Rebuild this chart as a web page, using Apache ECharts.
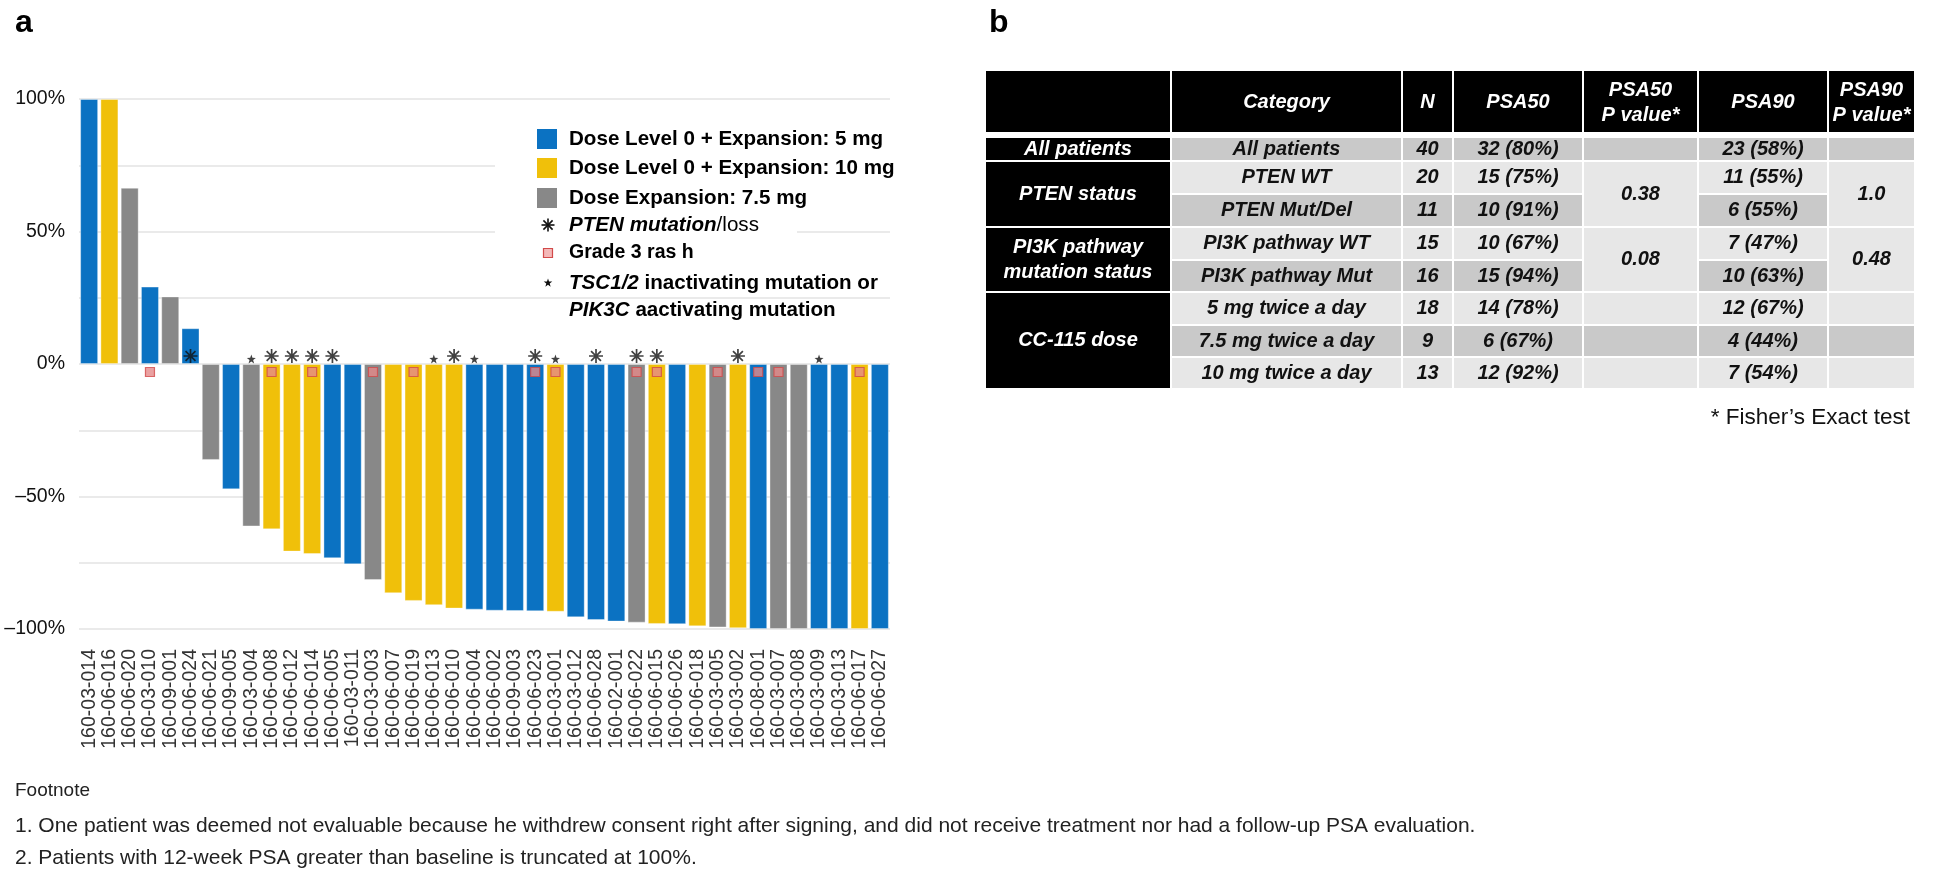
<!DOCTYPE html>
<html><head><meta charset="utf-8">
<script src="https://cdn.jsdelivr.net/npm/echarts@6/dist/echarts.min.js"></script>
<style>html,body{margin:0;padding:0;background:#fff}#c{width:1945px;height:874px}</style>
</head><body><div id="c"></div>
<script>
// ---------- Panel a data ----------
const patients = ['160-03-014','160-06-016','160-06-020','160-03-010','160-09-001','160-06-024','160-06-021','160-09-005','160-03-004','160-06-008',
  '160-06-012','160-06-014','160-06-005','160-03-011','160-03-003','160-06-007','160-06-019','160-06-013','160-06-010','160-06-004',
  '160-06-002','160-09-003','160-06-023','160-03-001','160-03-012','160-06-028','160-02-001','160-06-022','160-06-015','160-06-026',
  '160-06-018','160-03-005','160-03-002','160-08-001','160-03-007','160-03-008','160-03-009','160-03-013','160-06-017','160-06-027'];
const psaChange = [100,100,66.5,29.2,25.5,13.5,-36.2,-47.3,-61.3,-62.4,
  -70.8,-71.7,-73.3,-75.6,-81.5,-86.5,-89.4,-91.0,-92.3,-92.7,
  -93.1,-93.2,-93.3,-93.5,-95.6,-96.6,-97.2,-97.6,-98.1,-98.2,
  -99.0,-99.4,-99.7,-100,-100,-100,-100,-100,-100,-100];
// 0 = 5 mg, 1 = 10 mg, 2 = 7.5 mg
const doseGroup = [0,1,2,0,2,0,2,0,2,1, 1,1,0,0,2,1,1,1,1,0, 0,0,0,1,0,0,0,2,1,0, 1,2,1,0,2,2,0,0,1,0];
const groupNames = ['Dose Level 0 + Expansion: 5 mg','Dose Level 0 + Expansion: 10 mg','Dose Expansion: 7.5 mg'];
const ptenLoss = ['160-06-024','160-06-008','160-06-012','160-06-014','160-06-005','160-06-010','160-06-023','160-06-028','160-06-022','160-06-015','160-03-002'];
const tscPik3c = ['160-03-004','160-06-013','160-06-004','160-03-001','160-03-009'];
const grade3Rash = ['160-03-010','160-06-008','160-06-014','160-03-003','160-06-019','160-06-023','160-03-001','160-06-022','160-06-015','160-03-005','160-08-001','160-03-007','160-06-017'];
const yTicks = [-100,-75,-50,-25,0,25,50,75,100];

// ---------- Panel b data ----------
const tableHeader = ['', 'Category', 'N', 'PSA50', 'PSA50\nP value*', 'PSA90', 'PSA90\nP value*'];
const tableCategory = ['All patients','PTEN WT','PTEN Mut/Del','PI3K pathway WT','PI3K pathway Mut','5 mg twice a day','7.5 mg twice a day','10 mg twice a day'];
const tableN = [40,20,11,15,16,18,9,13];
const tablePSA50 = ['32 (80%)','15 (75%)','10 (91%)','10 (67%)','15 (94%)','14 (78%)','6 (67%)','12 (92%)'];
const tablePSA90 = ['23 (58%)','11 (55%)','6 (55%)','7 (47%)','10 (63%)','12 (67%)','4 (44%)','7 (54%)'];
const tableGroups = ['All patients','PTEN status','PI3K pathway\nmutation status','CC-115 dose'];
const tableGroupRows = [[0],[1,2],[3,4],[5,6,7]];
const tablePValue50 = ['', '0.38', '0.08', ''];
const tablePValue90 = ['', '1.0', '0.48', ''];
const footnotes = ['Footnote',
  '1. One patient was deemed not evaluable because he withdrew consent right after signing, and did not receive treatment nor had a follow-up PSA evaluation.',
  '2. Patients with 12-week PSA greater than baseline is truncated at 100%.'];

// ---------- styles ----------
const FF = "'Liberation Sans', Arial, Helvetica, sans-serif";
const colors = ['#0B72C2', '#F0C00A', '#888888'];
const ASTERISK = 'M0,-10L0,10M-10,0L10,0M-7.07,-7.07L7.07,7.07M-7.07,7.07L7.07,-7.07';
const STAR_PTS = [[0,-10],[2.35,-3.24],[9.51,-3.09],[3.8,1.24],[5.88,8.09],[0,4],[-5.88,8.09],[-3.8,1.24],[-9.51,-3.09],[-2.35,-3.24]];
const STAR = 'M' + STAR_PTS.map(p => p.join(',')).join('L') + 'Z';
const SQUARE = 'M0,0H10V10H0Z';
const rashStyle = {color:'#e58a8a', borderColor:'#d24a4a', borderWidth:1.2};

const G = [];
function txt(x, y, text, opt) {
  G.push({type:'text', x, y, z:10, style:Object.assign({text, fill:'#111', fontFamily:FF, fontSize:20,
    fontWeight:'bold', fontStyle:'italic', align:'center', verticalAlign:'middle', lineHeight:25}, opt || {})});
}
function rect(x, y, w, h, fill, z, extra) {
  G.push({type:'rect', z:z || 8, shape:{x, y, width:w, height:h}, style:Object.assign({fill}, extra || {})});
}
function asteriskIcon(cx, cy, r) {
  const d = r * 0.707;
  [[0,-r,0,r],[-r,0,r,0],[-d,-d,d,d],[-d,d,d,-d]].forEach(s =>
    G.push({type:'line', z:10, shape:{x1:cx+s[0], y1:cy+s[1], x2:cx+s[2], y2:cy+s[3]}, style:{stroke:'#111', lineWidth:1.6}}));
}
function starIcon(cx, cy, r) {
  G.push({type:'polygon', z:10, shape:{points:STAR_PTS.map(p => [cx + p[0]*r/10, cy + p[1]*r/10])}, style:{fill:'#111'}});
}

// panel letters
txt(15, 11, 'a', {fontSize:32, fontStyle:'normal', align:'left', verticalAlign:'top', fill:'#000'});
txt(989, 11, 'b', {fontSize:32, fontStyle:'normal', align:'left', verticalAlign:'top', fill:'#000'});

// legend background
rect(495, 112, 405, 100, '#fff', 4);
rect(495, 112, 302, 176, '#fff', 4);
// legend entries
const legY = [139, 168, 198, 225, 253, 283];
const LFS = 20.6;
groupNames.forEach((n, i) => {
  rect(537, legY[i] - 10, 20, 20, colors[i], 10);
  txt(569, legY[i], n, {align:'left', fontStyle:'normal', fontSize:LFS, fill:'#000'});
});
asteriskIcon(548, legY[3], 6.5);
txt(569, legY[3], '{bi|PTEN mutation}{r|/loss}', {align:'left', rich:{
  bi:{fontFamily:FF, fontSize:LFS, fontWeight:'bold', fontStyle:'italic', fill:'#000'},
  r:{fontFamily:FF, fontSize:LFS, fontWeight:'normal', fontStyle:'normal', fill:'#000'}}});
rect(543.5, legY[4] - 4.5, 9, 9, '#f3b8b8', 10, {stroke:'#d24a4a', lineWidth:1.2});
txt(569, legY[4], 'Grade 3 ras h', {align:'left', fontStyle:'normal', fontSize:19.5, fill:'#000'});
starIcon(548, legY[5], 4.5);
const legRich = {
  bi:{fontFamily:FF, fontSize:LFS, fontWeight:'bold', fontStyle:'italic', fill:'#000'},
  b:{fontFamily:FF, fontSize:LFS, fontWeight:'bold', fontStyle:'normal', fill:'#000'}};
txt(569, legY[5], '{bi|TSC1/2}{b| inactivating mutation or}', {align:'left', rich:legRich});
txt(569, legY[5] + 27, '{bi|PIK3C}{b| aactivating mutation}', {align:'left', rich:legRich});

// ---------- table ----------
const tx = [986, 1172, 1403, 1454, 1584, 1699, 1829, 1914];
const hy = [71, 132];
const ry = [138, 162, 195, 228, 261, 293, 326, 358, 390];
const DARK = '#c9c9c9', LIGHT = '#e7e7e7';
function cw(c) { return tx[c+1] - tx[c] - (c < 6 ? 2 : 0); }
function cx(c) { return tx[c] + cw(c) / 2; }
function rh(a, b) { return ry[b+1] - ry[a] - 2; }
function rc(a, b) { return ry[a] + rh(a, b) / 2; }
for (let c = 0; c < 7; c++) {
  rect(tx[c], hy[0], cw(c), hy[1] - hy[0], '#000');
  if (tableHeader[c]) txt(cx(c), (hy[0] + hy[1]) / 2 + 1, tableHeader[c], {fill:'#fff'});
}
for (let r = 0; r < tableCategory.length; r++) {
  const shade = r % 2 === 0 ? DARK : LIGHT;
  [[1, tableCategory], [2, tableN], [3, tablePSA50], [5, tablePSA90]].forEach(([c, arr]) => {
    rect(tx[c], ry[r], cw(c), rh(r, r), shade);
    txt(cx(c), rc(r, r), String(arr[r]));
  });
}
tableGroups.forEach((g, gi) => {
  const rows = tableGroupRows[gi], a = rows[0], b = rows[rows.length - 1];
  rect(tx[0], ry[a], cw(0), rh(a, b), '#000');
  txt(cx(0), rc(a, b), g, {fill:'#fff'});
  [[4, tablePValue50], [6, tablePValue90]].forEach(([c, arr]) => {
    if (arr[gi]) {
      rect(tx[c], ry[a], cw(c), rh(a, b), LIGHT);
      txt(cx(c), rc(a, b), arr[gi]);
    } else {
      rows.forEach(r => rect(tx[c], ry[r], cw(c), rh(r, r), r % 2 === 0 ? DARK : LIGHT));
    }
  });
});
txt(1910, 418, '* Fisher\u2019s Exact test', {align:'right', fontWeight:'normal', fontStyle:'normal', fontSize:22.5, fill:'#111'});

// footnotes
const fnY = [791, 826, 858];
const fnSize = [19, 21, 21];
footnotes.forEach((t, i) => txt(15, fnY[i], t, {align:'left', fontWeight:'normal', fontStyle:'normal', fontSize:fnSize[i], fill:'#222'}));

// ---------- chart ----------
const chart = echarts.init(document.getElementById('c'), null, {renderer:'canvas'});
chart.setOption({
  animation:false,
  backgroundColor:'#fff',
  grid:{left:79, right:1055, top:99, bottom:245, containLabel:false},
  xAxis:{type:'category', data:patients, axisLine:{show:false}, axisTick:{show:false},
    axisLabel:{rotate:90, interval:0, margin:20, fontSize:19.5, color:'#333', fontFamily:FF}},
  yAxis:{type:'value', min:-100, max:100, interval:25, axisLine:{show:false}, axisTick:{show:false},
    splitLine:{lineStyle:{color:'#e3e3e3', width:1.5}},
    axisLabel:{margin:14, fontSize:19.5, color:'#111', fontFamily:FF,
      formatter:v => (yTicks.includes(v) && v % 50 === 0) ? ((v < 0 ? '\u2013' + (-v) : v) + '%') : ''}},
  series:[
    {type:'bar', barWidth:18, z:2,
      data:psaChange.map((v, i) => ({value:v, itemStyle:{color:colors[doseGroup[i]], borderColor:'rgba(255,255,255,0.35)', borderWidth:1}}))},
    {type:'scatter', name:'PTEN mutation/loss', z:5, symbol:'path://' + ASTERISK, symbolSize:14, symbolOffset:[0, -8],
      itemStyle:{color:'none', borderColor:'#111', borderWidth:1.7}, data:ptenLoss.map(p => [p, 0])},
    {type:'scatter', name:'TSC1/2', z:5, symbol:'path://' + STAR, symbolSize:9, symbolOffset:[0, -5],
      itemStyle:{color:'#111'}, data:tscPik3c.map(p => [p, 0])},
    {type:'scatter', name:'Grade 3 rash', z:5, symbol:'path://' + SQUARE, symbolSize:9, symbolOffset:[0, 8],
      itemStyle:rashStyle, data:grade3Rash.map(p => [p, 0])}
  ],
  graphic:{elements:G}
});
</script></body></html>
